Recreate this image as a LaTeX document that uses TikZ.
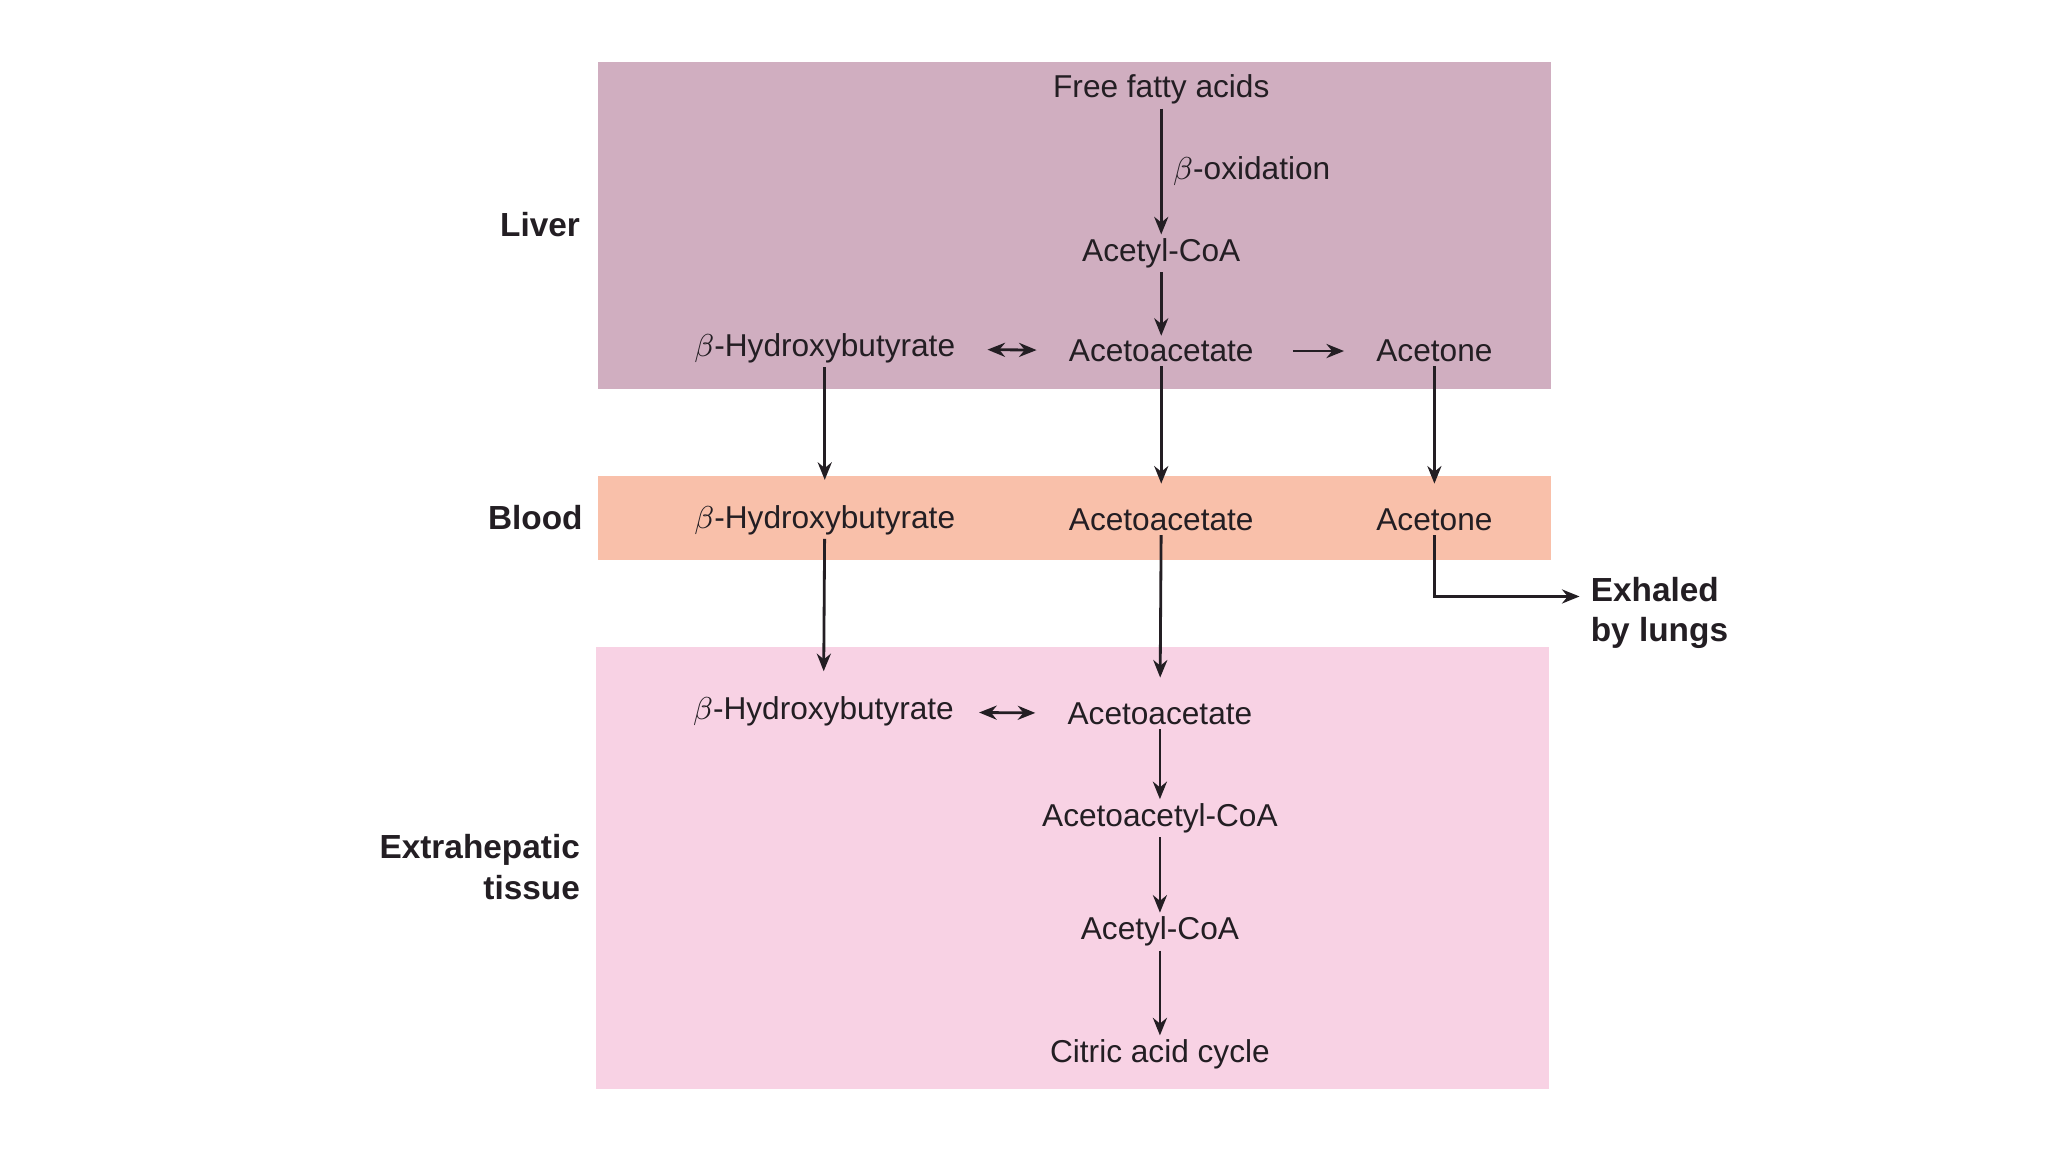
\documentclass[tikz,border=0pt]{standalone}
\usepackage{fontspec}
\setmainfont{Liberation Sans}
\usetikzlibrary{positioning,arrows.meta}
\definecolor{liverc}{RGB}{208,174,192}
\definecolor{bloodc}{RGB}{249,192,170}
\definecolor{tissuec}{RGB}{248,210,228}
\definecolor{inkc}{RGB}{35,30,35}
\begin{document}
\begin{tikzpicture}[x=0.0132cm,y=-0.0132cm,
    met/.style={font=\fontsize{9}{10}\selectfont,text=inkc,inner sep=1pt},
    lab/.style={font=\fontsize{9.5}{11.5}\selectfont\bfseries,text=inkc,align=right,inner sep=0pt},
    arr/.style={-{Stealth[length=5pt,width=4pt]},line width=0.8pt,draw=inkc},
    darr/.style={{Stealth[length=5pt,width=4pt]}-{Stealth[length=5pt,width=4pt]},line width=0.8pt,draw=inkc}]
    \useasboundingbox (0,0) rectangle (1552,873);
    % compartments
    \fill[liverc] (453,47) rectangle (1175,295);
    \fill[bloodc] (453,361) rectangle (1175,424);
    \fill[tissuec] (452,490) rectangle (1174,825);
    \node[lab,anchor=east] at (440,170) {Liver};
    \node[lab,anchor=east] at (442,392) {Blood};
    \node[lab,anchor=east] at (440,657) {Extrahepatic\\tissue};
    % liver
    \node[met] (ffa) at (880,68) {Free fatty acids};
    \node[met] (lacoa) at (880,192) {Acetyl-CoA};
    \node[met] (lbhb) at (625,264) {$\beta$-Hydroxybutyrate};
    \node[met] (lacac) at (880,266) {Acetoacetate};
    \node[met] (lacet) at (1087,266) {Acetone};
    % blood
    \node[met] (bbhb) at (625,394) {$\beta$-Hydroxybutyrate};
    \node[met] (bacac) at (880,394) {Acetoacetate};
    \node[met] (bacet) at (1087,394) {Acetone};
    \node[lab,align=left,anchor=north west] (exh) at (1205,437) {Exhaled\\by lungs};
    \coordinate (exhin) at (1197,452);
    % tissue
    \node[met] (tbhb) at (624,539) {$\beta$-Hydroxybutyrate};
    \node[met] (tacac) at (879,541) {Acetoacetate};
    \node[met] (taacoa) at (879,620) {Acetoacetyl-CoA};
    \node[met] (tacoa) at (879,706) {Acetyl-CoA};
    \node[met] (tca) at (879,799) {Citric acid cycle};
    % connectors
    \draw[arr] (ffa) -- node[met,right=2pt] {$\beta$-oxidation} (lacoa);
    \draw[arr] (lacoa) -- (lacac);
    \draw[darr,shorten <=8pt,shorten >=8pt] (lbhb) -- (lacac);
    \draw[arr,shorten <=10pt,shorten >=8pt] (lacac) -- (lacet);
    \draw[arr,shorten >=6pt] (lbhb) -- (bbhb);
    \draw[arr,shorten >=6pt] (lacac) -- (bacac);
    \draw[arr,shorten >=6pt] (lacet) -- (bacet);
    \draw[arr] (bacet.south) |- (exhin);
    \draw[arr,shorten >=6pt] (bbhb) -- (tbhb);
    \draw[arr,shorten >=6pt] (bacac) -- (tacac);
    \draw[darr,shorten <=6pt,shorten >=8pt] (tbhb) -- (tacac);
    \draw[arr] (tacac) -- (taacoa);
    \draw[arr] (taacoa) -- (tacoa);
    \draw[arr] (tacoa) -- (tca);
\end{tikzpicture}
\end{document}
